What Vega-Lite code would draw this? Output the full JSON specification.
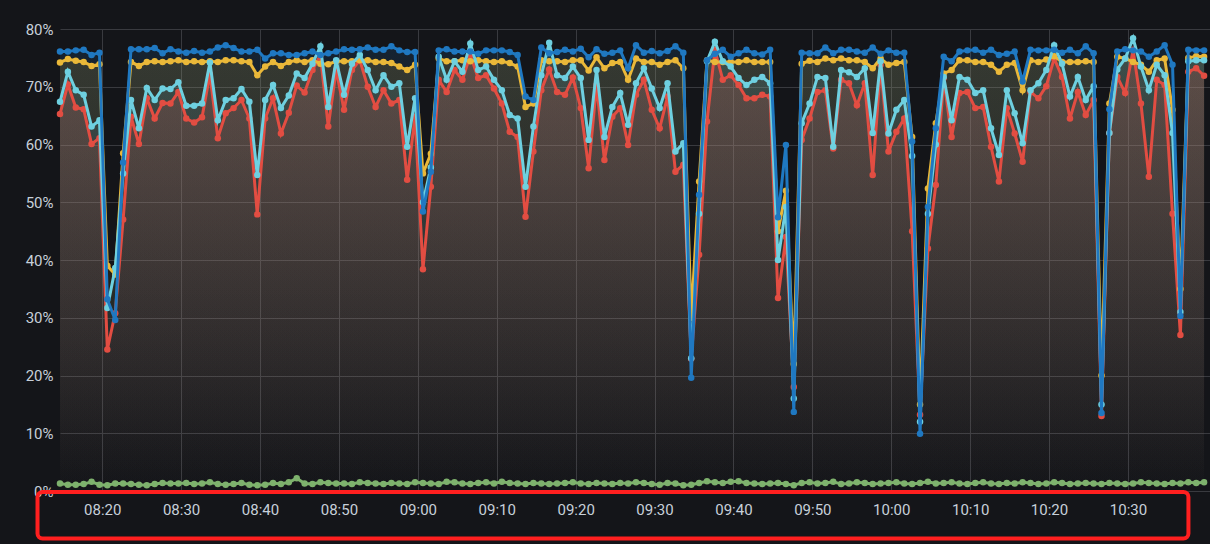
{
"$schema":"https://vega.github.io/schema/vega-lite/v6.json",
"width":1150,"height":462,
"autosize":{"type":"none"},
"padding":{"left":60,"top":29,"right":0,"bottom":53},
"background":"#141519",
"config":{"view":{"stroke":null},"axis":{"domain":false,"ticks":false,"gridColor":"#393a3f","gridWidth":1,"labelColor":"#c7d0d9","labelFont":"Roboto","labelFontSize":15}},
"data":{"values":[
{"t":"2024-01-01T08:14:39","g":1.3,"y":74.2,"c":67.4,"r":65.3,"b":76.1},
{"t":"2024-01-01T08:15:39","g":1.1,"y":74.8,"c":72.6,"r":70.4,"b":76.1},
{"t":"2024-01-01T08:16:39","g":1.1,"y":74.5,"c":69.4,"r":66.4,"b":76.3},
{"t":"2024-01-01T08:17:39","g":1.2,"y":74.3,"c":68.6,"r":66.1,"b":76.4},
{"t":"2024-01-01T08:18:39","g":1.6,"y":73.6,"c":63.1,"r":60.1,"b":75.5},
{"t":"2024-01-01T08:19:39","g":1.1,"y":73.9,"c":64.2,"r":61.1,"b":75.9},
{"t":"2024-01-01T08:20:39","g":1.0,"y":39.0,"c":31.7,"r":24.5,"b":33.2},
{"t":"2024-01-01T08:21:39","g":1.3,"y":37.5,"c":38.6,"r":30.8,"b":29.6},
{"t":"2024-01-01T08:22:39","g":1.3,"y":58.5,"c":55.0,"r":47.0,"b":56.9},
{"t":"2024-01-01T08:23:39","g":1.2,"y":74.3,"c":67.7,"r":64.8,"b":76.5},
{"t":"2024-01-01T08:24:39","g":1.1,"y":73.6,"c":62.8,"r":60.1,"b":76.5},
{"t":"2024-01-01T08:25:39","g":1.0,"y":74.3,"c":69.8,"r":68.0,"b":76.5},
{"t":"2024-01-01T08:26:39","g":1.2,"y":74.4,"c":67.7,"r":64.5,"b":76.7},
{"t":"2024-01-01T08:27:39","g":1.4,"y":74.3,"c":69.7,"r":67.2,"b":75.8},
{"t":"2024-01-01T08:28:39","g":1.3,"y":74.4,"c":69.6,"r":67.1,"b":76.5},
{"t":"2024-01-01T08:29:39","g":1.3,"y":74.6,"c":70.8,"r":69.1,"b":76.1},
{"t":"2024-01-01T08:30:39","g":1.4,"y":74.3,"c":66.7,"r":64.5,"b":75.9},
{"t":"2024-01-01T08:31:39","g":1.2,"y":74.4,"c":66.7,"r":63.8,"b":76.2},
{"t":"2024-01-01T08:32:39","g":1.3,"y":74.3,"c":67.1,"r":64.7,"b":75.9},
{"t":"2024-01-01T08:33:39","g":1.5,"y":74.4,"c":74.2,"r":72.2,"b":76.1},
{"t":"2024-01-01T08:34:39","g":1.2,"y":74.3,"c":64.2,"r":61.1,"b":76.8},
{"t":"2024-01-01T08:35:39","g":1.1,"y":74.6,"c":67.7,"r":65.4,"b":77.2},
{"t":"2024-01-01T08:36:39","g":1.2,"y":74.6,"c":68.0,"r":66.3,"b":76.7},
{"t":"2024-01-01T08:37:39","g":1.4,"y":74.4,"c":69.6,"r":67.7,"b":76.1},
{"t":"2024-01-01T08:38:39","g":1.1,"y":74.3,"c":67.4,"r":64.5,"b":76.1},
{"t":"2024-01-01T08:39:39","g":1.0,"y":72.0,"c":54.7,"r":47.9,"b":76.4},
{"t":"2024-01-01T08:40:39","g":1.1,"y":73.5,"c":67.7,"r":64.5,"b":74.9},
{"t":"2024-01-01T08:41:39","g":1.4,"y":74.3,"c":70.3,"r":68.0,"b":75.8},
{"t":"2024-01-01T08:42:39","g":1.2,"y":73.6,"c":66.3,"r":61.9,"b":75.8},
{"t":"2024-01-01T08:43:39","g":1.5,"y":74.3,"c":68.5,"r":65.5,"b":75.5},
{"t":"2024-01-01T08:44:39","g":2.2,"y":74.6,"c":72.3,"r":70.2,"b":75.5},
{"t":"2024-01-01T08:45:39","g":1.3,"y":74.3,"c":71.5,"r":69.0,"b":75.8},
{"t":"2024-01-01T08:46:39","g":1.2,"y":74.6,"c":74.0,"r":72.9,"b":76.1},
{"t":"2024-01-01T08:47:39","g":1.5,"y":74.0,"c":77.0,"r":75.5,"b":75.5},
{"t":"2024-01-01T08:48:39","g":1.4,"y":73.9,"c":66.5,"r":63.1,"b":75.8},
{"t":"2024-01-01T08:49:39","g":1.3,"y":74.4,"c":74.6,"r":72.9,"b":76.1},
{"t":"2024-01-01T08:50:39","g":1.3,"y":74.4,"c":68.6,"r":66.0,"b":76.5},
{"t":"2024-01-01T08:51:39","g":1.2,"y":74.4,"c":74.0,"r":72.9,"b":76.4},
{"t":"2024-01-01T08:52:39","g":1.5,"y":74.6,"c":75.5,"r":74.6,"b":76.5},
{"t":"2024-01-01T08:53:39","g":1.4,"y":74.6,"c":72.9,"r":70.0,"b":76.8},
{"t":"2024-01-01T08:54:39","g":1.3,"y":74.3,"c":69.4,"r":66.5,"b":76.4},
{"t":"2024-01-01T08:55:39","g":1.2,"y":74.3,"c":72.0,"r":69.4,"b":76.4},
{"t":"2024-01-01T08:56:39","g":1.4,"y":74.1,"c":70.0,"r":67.1,"b":77.0},
{"t":"2024-01-01T08:57:39","g":1.3,"y":73.5,"c":70.6,"r":67.7,"b":76.3},
{"t":"2024-01-01T08:58:39","g":1.2,"y":72.9,"c":59.6,"r":53.9,"b":76.0},
{"t":"2024-01-01T08:59:39","g":1.5,"y":73.8,"c":68.0,"r":64.8,"b":76.0},
{"t":"2024-01-01T09:00:39","g":1.4,"y":55.0,"c":50.0,"r":38.4,"b":48.4},
{"t":"2024-01-01T09:01:39","g":1.3,"y":58.4,"c":56.0,"r":52.7,"b":55.3},
{"t":"2024-01-01T09:02:39","g":1.2,"y":74.9,"c":75.2,"r":71.2,"b":76.3},
{"t":"2024-01-01T09:03:39","g":1.6,"y":74.4,"c":71.2,"r":69.1,"b":76.5},
{"t":"2024-01-01T09:04:39","g":1.5,"y":74.4,"c":74.4,"r":72.9,"b":76.1},
{"t":"2024-01-01T09:05:39","g":1.3,"y":74.6,"c":72.6,"r":71.2,"b":76.1},
{"t":"2024-01-01T09:06:39","g":1.2,"y":74.4,"c":77.5,"r":75.5,"b":76.1},
{"t":"2024-01-01T09:07:39","g":1.4,"y":74.6,"c":72.9,"r":71.5,"b":75.7},
{"t":"2024-01-01T09:08:39","g":1.5,"y":74.4,"c":73.5,"r":72.0,"b":76.3},
{"t":"2024-01-01T09:09:39","g":1.3,"y":74.3,"c":71.2,"r":69.7,"b":76.3},
{"t":"2024-01-01T09:10:39","g":1.6,"y":74.4,"c":69.4,"r":67.1,"b":76.3},
{"t":"2024-01-01T09:11:39","g":1.4,"y":74.1,"c":65.1,"r":62.2,"b":76.0},
{"t":"2024-01-01T09:12:39","g":1.3,"y":73.5,"c":64.5,"r":61.3,"b":75.5},
{"t":"2024-01-01T09:13:39","g":1.2,"y":66.5,"c":52.7,"r":47.5,"b":68.3},
{"t":"2024-01-01T09:14:39","g":1.4,"y":67.1,"c":63.1,"r":58.8,"b":67.7},
{"t":"2024-01-01T09:15:39","g":1.3,"y":74.6,"c":72.0,"r":69.4,"b":76.8},
{"t":"2024-01-01T09:16:39","g":1.2,"y":74.4,"c":77.6,"r":73.0,"b":75.8},
{"t":"2024-01-01T09:17:39","g":1.3,"y":74.4,"c":72.0,"r":69.1,"b":76.0},
{"t":"2024-01-01T09:18:39","g":1.4,"y":74.3,"c":71.5,"r":68.6,"b":76.4},
{"t":"2024-01-01T09:19:39","g":1.5,"y":74.6,"c":73.5,"r":71.6,"b":76.1},
{"t":"2024-01-01T09:20:39","g":1.3,"y":74.6,"c":71.5,"r":66.3,"b":76.6},
{"t":"2024-01-01T09:21:39","g":1.2,"y":72.8,"c":60.8,"r":55.9,"b":75.1},
{"t":"2024-01-01T09:22:39","g":1.4,"y":75.1,"c":72.9,"r":70.3,"b":76.5},
{"t":"2024-01-01T09:23:39","g":1.3,"y":73.2,"c":61.3,"r":57.3,"b":75.7},
{"t":"2024-01-01T09:24:39","g":1.2,"y":74.1,"c":66.5,"r":64.8,"b":75.9},
{"t":"2024-01-01T09:25:39","g":1.4,"y":74.3,"c":68.9,"r":66.3,"b":76.3},
{"t":"2024-01-01T09:26:39","g":1.3,"y":71.2,"c":63.4,"r":59.9,"b":73.2},
{"t":"2024-01-01T09:27:39","g":1.5,"y":74.9,"c":70.6,"r":68.6,"b":77.2},
{"t":"2024-01-01T09:28:39","g":1.4,"y":74.3,"c":73.2,"r":71.2,"b":75.9},
{"t":"2024-01-01T09:29:39","g":1.2,"y":74.3,"c":69.7,"r":66.0,"b":76.2},
{"t":"2024-01-01T09:30:39","g":1.1,"y":73.8,"c":66.3,"r":62.8,"b":75.8},
{"t":"2024-01-01T09:31:39","g":1.4,"y":74.3,"c":70.6,"r":68.3,"b":76.2},
{"t":"2024-01-01T09:32:39","g":1.3,"y":74.6,"c":58.8,"r":55.3,"b":77.0},
{"t":"2024-01-01T09:33:39","g":1.0,"y":73.2,"c":60.2,"r":56.5,"b":75.9},
{"t":"2024-01-01T09:34:39","g":1.1,"y":30.0,"c":23.0,"r":22.9,"b":19.6},
{"t":"2024-01-01T09:35:39","g":1.4,"y":53.6,"c":48.0,"r":40.9,"b":51.3},
{"t":"2024-01-01T09:36:39","g":1.7,"y":74.6,"c":74.4,"r":64.0,"b":74.6},
{"t":"2024-01-01T09:37:39","g":1.5,"y":74.3,"c":77.8,"r":76.4,"b":75.7},
{"t":"2024-01-01T09:38:39","g":1.4,"y":74.3,"c":74.4,"r":71.2,"b":76.4},
{"t":"2024-01-01T09:39:39","g":1.6,"y":74.3,"c":73.5,"r":72.0,"b":75.2},
{"t":"2024-01-01T09:40:39","g":1.7,"y":74.3,"c":71.5,"r":70.3,"b":75.8},
{"t":"2024-01-01T09:41:39","g":1.4,"y":74.6,"c":70.3,"r":68.0,"b":76.4},
{"t":"2024-01-01T09:42:39","g":1.3,"y":74.3,"c":71.2,"r":68.0,"b":75.8},
{"t":"2024-01-01T09:43:39","g":1.2,"y":74.3,"c":71.7,"r":68.6,"b":75.6},
{"t":"2024-01-01T09:44:39","g":1.3,"y":74.3,"c":70.6,"r":68.3,"b":76.4},
{"t":"2024-01-01T09:45:39","g":1.4,"y":45.0,"c":40.0,"r":33.4,"b":47.4},
{"t":"2024-01-01T09:46:39","g":1.2,"y":52.0,"c":49.2,"r":44.0,"b":59.9},
{"t":"2024-01-01T09:47:39","g":1.0,"y":22.0,"c":16.0,"r":18.0,"b":13.7},
{"t":"2024-01-01T09:48:39","g":1.4,"y":74.0,"c":63.7,"r":60.8,"b":75.9},
{"t":"2024-01-01T09:49:39","g":1.5,"y":74.5,"c":67.1,"r":64.5,"b":75.8},
{"t":"2024-01-01T09:50:39","g":1.3,"y":74.3,"c":71.7,"r":69.1,"b":75.8},
{"t":"2024-01-01T09:51:39","g":1.4,"y":74.9,"c":71.5,"r":69.4,"b":76.8},
{"t":"2024-01-01T09:52:39","g":1.6,"y":74.6,"c":59.6,"r":59.3,"b":75.8},
{"t":"2024-01-01T09:53:39","g":1.2,"y":74.9,"c":72.9,"r":71.2,"b":76.4},
{"t":"2024-01-01T09:54:39","g":1.3,"y":74.6,"c":72.5,"r":70.6,"b":76.4},
{"t":"2024-01-01T09:55:39","g":1.5,"y":74.6,"c":71.7,"r":66.8,"b":76.1},
{"t":"2024-01-01T09:56:39","g":1.4,"y":74.3,"c":73.2,"r":70.6,"b":75.9},
{"t":"2024-01-01T09:57:39","g":1.2,"y":73.2,"c":62.0,"r":54.7,"b":76.8},
{"t":"2024-01-01T09:58:39","g":1.3,"y":74.9,"c":74.4,"r":73.8,"b":75.7},
{"t":"2024-01-01T09:59:39","g":1.4,"y":73.8,"c":61.9,"r":58.8,"b":76.3},
{"t":"2024-01-01T10:00:39","g":1.5,"y":74.1,"c":66.0,"r":62.2,"b":75.9},
{"t":"2024-01-01T10:01:39","g":1.3,"y":74.3,"c":67.7,"r":64.5,"b":75.9},
{"t":"2024-01-01T10:02:39","g":1.2,"y":61.3,"c":58.0,"r":45.0,"b":60.5},
{"t":"2024-01-01T10:03:39","g":1.4,"y":15.0,"c":12.0,"r":13.2,"b":9.9},
{"t":"2024-01-01T10:04:39","g":1.6,"y":52.4,"c":48.0,"r":42.0,"b":49.2},
{"t":"2024-01-01T10:05:39","g":1.3,"y":63.7,"c":60.0,"r":53.0,"b":62.8},
{"t":"2024-01-01T10:06:39","g":1.4,"y":72.3,"c":71.7,"r":71.5,"b":75.2},
{"t":"2024-01-01T10:07:39","g":1.5,"y":72.9,"c":64.2,"r":61.3,"b":74.4},
{"t":"2024-01-01T10:08:39","g":1.3,"y":74.6,"c":71.7,"r":68.9,"b":76.1},
{"t":"2024-01-01T10:09:39","g":1.2,"y":74.6,"c":71.2,"r":69.1,"b":76.3},
{"t":"2024-01-01T10:10:39","g":1.4,"y":74.3,"c":68.9,"r":66.3,"b":76.4},
{"t":"2024-01-01T10:11:39","g":1.5,"y":74.3,"c":69.4,"r":66.5,"b":75.9},
{"t":"2024-01-01T10:12:39","g":1.3,"y":73.8,"c":62.8,"r":59.6,"b":76.4},
{"t":"2024-01-01T10:13:39","g":1.2,"y":72.6,"c":58.2,"r":53.6,"b":75.5},
{"t":"2024-01-01T10:14:39","g":1.4,"y":73.8,"c":69.4,"r":66.3,"b":75.7},
{"t":"2024-01-01T10:15:39","g":1.3,"y":74.1,"c":65.4,"r":61.9,"b":76.1},
{"t":"2024-01-01T10:16:39","g":1.5,"y":69.4,"c":60.2,"r":57.0,"b":70.9},
{"t":"2024-01-01T10:17:39","g":1.4,"y":74.6,"c":69.4,"r":69.1,"b":76.4},
{"t":"2024-01-01T10:18:39","g":1.2,"y":74.3,"c":70.6,"r":68.0,"b":76.3},
{"t":"2024-01-01T10:19:39","g":1.3,"y":74.7,"c":72.9,"r":70.1,"b":76.3},
{"t":"2024-01-01T10:20:39","g":1.5,"y":75.3,"c":77.2,"r":74.9,"b":76.4},
{"t":"2024-01-01T10:21:39","g":1.4,"y":74.3,"c":74.0,"r":71.7,"b":75.9},
{"t":"2024-01-01T10:22:39","g":1.2,"y":74.3,"c":68.3,"r":64.5,"b":76.4},
{"t":"2024-01-01T10:23:39","g":1.3,"y":74.3,"c":71.7,"r":69.1,"b":75.8},
{"t":"2024-01-01T10:24:39","g":1.4,"y":74.4,"c":67.7,"r":65.1,"b":77.0},
{"t":"2024-01-01T10:25:39","g":1.3,"y":74.3,"c":70.1,"r":67.7,"b":75.8},
{"t":"2024-01-01T10:26:39","g":1.2,"y":20.0,"c":15.0,"r":13.0,"b":13.5},
{"t":"2024-01-01T10:27:39","g":1.4,"y":67.1,"c":62.0,"r":62.0,"b":66.1},
{"t":"2024-01-01T10:28:39","g":1.3,"y":75.2,"c":73.0,"r":71.7,"b":76.1},
{"t":"2024-01-01T10:29:39","g":1.2,"y":74.9,"c":74.9,"r":68.9,"b":76.5},
{"t":"2024-01-01T10:30:39","g":1.3,"y":74.3,"c":78.4,"r":76.4,"b":76.3},
{"t":"2024-01-01T10:31:39","g":1.5,"y":73.8,"c":73.5,"r":67.1,"b":76.1},
{"t":"2024-01-01T10:32:39","g":1.4,"y":72.6,"c":69.4,"r":54.4,"b":75.2},
{"t":"2024-01-01T10:33:39","g":1.3,"y":74.6,"c":73.8,"r":71.2,"b":76.1},
{"t":"2024-01-01T10:34:39","g":1.2,"y":74.9,"c":72.0,"r":70.3,"b":77.2},
{"t":"2024-01-01T10:35:39","g":1.4,"y":66.0,"c":62.0,"r":48.0,"b":73.8},
{"t":"2024-01-01T10:36:39","g":1.3,"y":35.0,"c":31.0,"r":27.0,"b":30.3},
{"t":"2024-01-01T10:37:39","g":1.5,"y":75.0,"c":74.4,"r":72.6,"b":76.4},
{"t":"2024-01-01T10:38:39","g":1.4,"y":75.3,"c":74.6,"r":73.2,"b":76.3},
{"t":"2024-01-01T10:39:39","g":1.5,"y":75.2,"c":74.6,"r":71.9,"b":76.3}
]},
"transform":[{"fold":["g","y","c","r","b"],"as":["s","v"]}],
"encoding":{
"x":{"field":"t","type":"temporal","scale":{"domain":[{"year":2024,"month":1,"date":1,"hours":8,"minutes":14,"seconds":39},{"year":2024,"month":1,"date":1,"hours":10,"minutes":40,"seconds":24}]},"axis":{"title":null,"format":"%H:%M","values":[{"year":2024,"month":1,"date":1,"hours":8,"minutes":20},{"year":2024,"month":1,"date":1,"hours":8,"minutes":30},{"year":2024,"month":1,"date":1,"hours":8,"minutes":40},{"year":2024,"month":1,"date":1,"hours":8,"minutes":50},{"year":2024,"month":1,"date":1,"hours":9,"minutes":0},{"year":2024,"month":1,"date":1,"hours":9,"minutes":10},{"year":2024,"month":1,"date":1,"hours":9,"minutes":20},{"year":2024,"month":1,"date":1,"hours":9,"minutes":30},{"year":2024,"month":1,"date":1,"hours":9,"minutes":40},{"year":2024,"month":1,"date":1,"hours":9,"minutes":50},{"year":2024,"month":1,"date":1,"hours":10,"minutes":0},{"year":2024,"month":1,"date":1,"hours":10,"minutes":10},{"year":2024,"month":1,"date":1,"hours":10,"minutes":20},{"year":2024,"month":1,"date":1,"hours":10,"minutes":30}],"labelPadding":18,"labelBaseline":"middle","labelOverlap":false,"grid":true}},
"y":{"field":"v","type":"quantitative","scale":{"domain":[0,80]},"axis":{"title":null,"values":[0,10,20,30,40,50,60,70,80],"labelExpr":"datum.value + '%'","labelPadding":7,"grid":true}}
},
"layer":[
{"transform":[{"filter":"datum.s==='b'"}],"mark":{"type":"area","color":{"gradient":"linear","x1":0,"y1":1,"x2":0,"y2":0,"stops":[{"offset":0,"color":"rgba(31,120,193,0)"},{"offset":1,"color":"rgba(31,120,193,0.14)"}]}},"encoding":{}},
{"transform":[{"filter":"datum.s==='y'"}],"mark":{"type":"area","color":{"gradient":"linear","x1":0,"y1":1,"x2":0,"y2":0,"stops":[{"offset":0,"color":"rgba(234,184,57,0)"},{"offset":1,"color":"rgba(234,184,57,0.15)"}]}},"encoding":{}},
{"transform":[{"filter":"datum.s==='c'"}],"mark":{"type":"area","color":{"gradient":"linear","x1":0,"y1":1,"x2":0,"y2":0,"stops":[{"offset":0,"color":"rgba(110,208,224,0)"},{"offset":1,"color":"rgba(110,208,224,0.14)"}]}},"encoding":{}},
{"transform":[{"filter":"datum.s==='r'"}],"mark":{"type":"area","color":{"gradient":"linear","x1":0,"y1":1,"x2":0,"y2":0,"stops":[{"offset":0,"color":"rgba(226,77,66,0)"},{"offset":1,"color":"rgba(226,77,66,0.2)"}]}},"encoding":{}},
{"transform":[{"filter":"datum.s==='g'"}],"mark":{"type":"line","color":"#7EB26D","strokeWidth":3,"point":{"filled":true,"size":42,"color":"#7EB26D"}},"encoding":{}},
{"transform":[{"filter":"datum.s==='r'"}],"mark":{"type":"line","color":"#E24D42","strokeWidth":3,"point":{"filled":true,"size":42,"color":"#E24D42"}},"encoding":{}},
{"transform":[{"filter":"datum.s==='y'"}],"mark":{"type":"line","color":"#EAB839","strokeWidth":3,"point":{"filled":true,"size":42,"color":"#EAB839"}},"encoding":{}},
{"transform":[{"filter":"datum.s==='c'"}],"mark":{"type":"line","color":"#6ED0E0","strokeWidth":3,"point":{"filled":true,"size":42,"color":"#6ED0E0"}},"encoding":{}},
{"transform":[{"filter":"datum.s==='b'"}],"mark":{"type":"line","color":"#1F78C1","strokeWidth":3,"point":{"filled":true,"size":42,"color":"#1F78C1"}},"encoding":{}},
{"data":{"format":{"parse":{"t":"date","t2":"date"}},"values":[{"t":"2024-01-01T08:11:48","t2":"2024-01-01T10:37:40","v":-8.23,"v2":-0.17}]},
 "mark":{"type":"rect","filled":false,"color":"#ff1f1f","strokeWidth":4,"cornerRadius":5,"clip":false},
 "encoding":{"x2":{"field":"t2"},"y2":{"field":"v2"}}}
]
}
